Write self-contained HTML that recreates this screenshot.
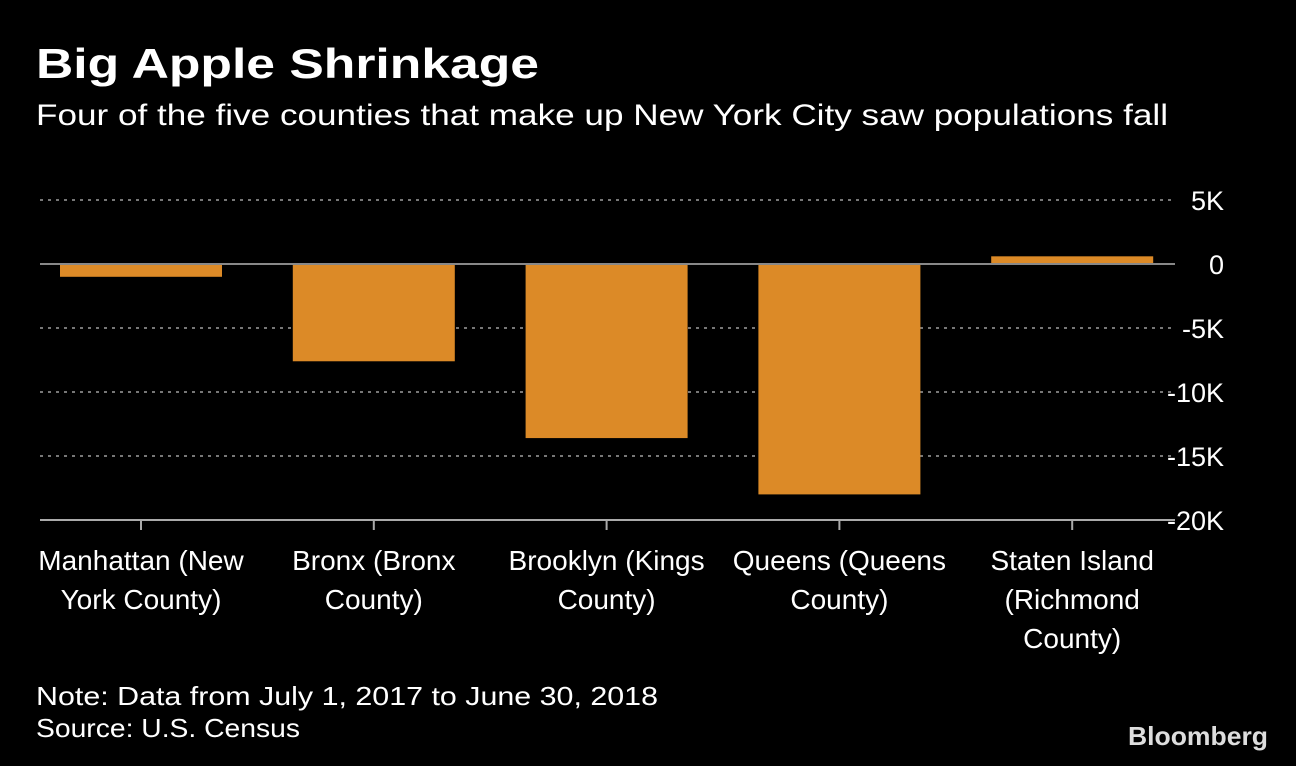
<!DOCTYPE html>
<html><head><meta charset="utf-8"><style>
html,body{margin:0;padding:0;background:#000;}
svg{display:block;font-family:"Liberation Sans",sans-serif;}
</style></head><body>
<svg width="1296" height="766" viewBox="0 0 1296 766">
<rect width="1296" height="766" fill="#000"/>
<text x="36" y="78" fill="#fff" font-size="42" font-weight="bold" textLength="503" lengthAdjust="spacingAndGlyphs">Big Apple Shrinkage</text>
<text x="36" y="125" fill="#fff" font-size="30" textLength="1132" lengthAdjust="spacingAndGlyphs">Four of the five counties that make up New York City saw populations fall</text>
<g id="grid"></g>
<g id="bars"></g>
<g id="axis"></g>
<text x="36" y="705" fill="#fff" font-size="26" textLength="622" lengthAdjust="spacingAndGlyphs">Note: Data from July 1, 2017 to June 30, 2018</text>
<text x="36" y="737" fill="#fff" font-size="26" textLength="264" lengthAdjust="spacingAndGlyphs">Source: U.S. Census</text>
<text x="1268" y="745" fill="#ddd" font-size="26" font-weight="bold" text-anchor="end" textLength="140" lengthAdjust="spacingAndGlyphs">Bloomberg</text>
</svg>
<script>
const categories=[["Manhattan (New","York County)"],["Bronx (Bronx","County)"],["Brooklyn (Kings","County)"],["Queens (Queens","County)"],["Staten Island","(Richmond","County)"]];
const values=[-1.0,-7.6,-13.6,-18.0,0.6];
const ticks=[5,0,-5,-10,-15,-20];
const tickLabels=["5K","0","-5K","-10K","-15K","-20K"];
const NS="http://www.w3.org/2000/svg";
const L=40,R=1175;
function y(v){return 264-v*12.8;}
function xc(i){return 141+232.8*i;}
function mk(t,a,p){const e=document.createElementNS(NS,t);for(const k in a)e.setAttribute(k,a[k]);p.appendChild(e);return e;}
const g=document.getElementById('grid'),b=document.getElementById('bars'),ax=document.getElementById('axis');
ticks.forEach((t,i)=>{
  if(t!==0&&t!==-20){const l=mk('line',{x1:L,x2:R,y1:y(t),y2:y(t),stroke:'#777','stroke-width':2,'stroke-dasharray':'3,5'},g);
  
  }
  const tx=mk('text',{x:1224,y:y(t)+10,fill:'#fff','font-size':27,'text-anchor':'end'},g);tx.textContent=tickLabels[i];
  
  
});
const bw=162;
values.forEach((v,i)=>{
  const r=mk('rect',{x:xc(i)-bw/2,y:Math.min(y(v),y(0)),width:bw,height:Math.abs(y(v)-y(0)),fill:'#dc8a27'},b);
  
  
});
const z=mk('line',{x1:L,x2:R,y1:y(0),y2:y(0),stroke:'#888','stroke-width':2},ax);


const base=mk('line',{x1:L,x2:R,y1:y(-20),y2:y(-20),stroke:'#aaa','stroke-width':2},ax);


categories.forEach((c,i)=>{
  const tk=mk('line',{x1:xc(i),x2:xc(i),y1:y(-20),y2:y(-20)+10,stroke:'#aaa','stroke-width':2},ax);
  
  
  c.forEach((s,j)=>{
    const t=mk('text',{x:xc(i),y:570+j*39,fill:'#fff','font-size':28,'text-anchor':'middle'},ax);t.textContent=s;
    
    
  });
});
</script>
</body></html>
